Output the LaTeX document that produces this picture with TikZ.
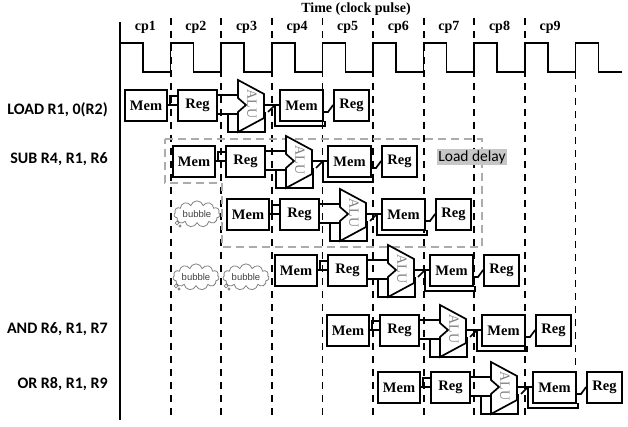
\documentclass[tikz,border=0pt]{standalone}
\usepackage{fontspec}
\setmainfont{Liberation Serif}
\newfontfamily\carl{Carlito}
\newfontfamily\lsans{Liberation Sans}
\usetikzlibrary{shapes.symbols}
\tikzset{
  box/.style={draw, line width=1.7pt, fill=white, inner sep=0pt, minimum height=31pt, font=\bfseries\fontsize{14.5}{14.5}\selectfont},
  wire/.style={line width=1.7pt},
  cpline/.style={line width=1.8pt, dash pattern=on 7pt off 6pt},
  cplbl/.style={font=\bfseries\fontsize{14}{14}\selectfont},
  lbl/.style={font=\carl\bfseries\fontsize{16}{16}\selectfont, anchor=east, inner sep=0pt},
  bub/.style={cloud, cloud puffs=11, aspect=2.2, draw=gray, line width=0.8pt, inner sep=0pt, minimum width=46pt, minimum height=24pt, font=\lsans\fontsize{9.5}{9.5}\selectfont, text=black!75},
  row/.pic={
    \node[box, minimum width=42pt] (m1) at (21,15.5) {Mem};
    \node[box, minimum width=39pt] (g1) at (72.5,15.5) {Reg};
    \draw[wire] (m1.east |- 0,15) -- (g1.west |- 0,15);
    \draw[wire] (g1.west |- 0,6) -- (45,6) -- (45,15);
    \draw[wire, fill=white] (113,-10) -- (139,4) -- (139,28) -- (113,42) -- (113,22) -- (121,15) -- (113,8) -- cycle;
    \node[font=\fontsize{14}{14}\selectfont, text=gray, rotate=-90, inner sep=0pt] (alu) at (127,14) {ALU};
    \coordinate (i1) at (113,5);
    \coordinate (i2) at (113,24);
    \coordinate (o1) at (139,15);
    \draw[wire] (g1.east |- i1) -- (i1);
    \draw[wire] (g1.east |- i2) -- (i2);
    \draw[wire] (103,24) -- (103,42) -- (140,42) -- (140,22);
    \node[box, minimum width=43pt] (m2) at (176.5,15.5) {Mem};
    \node[box, minimum width=35pt] (g2) at (226.5,15.5) {Reg};
    \draw[wire] (o1) -- (m2.west |- o1);
    \draw[wire] (143,22) -- (150,15);
    \draw[wire] (150,15) -- (150,36) -- (200,36) -- (200,31);
    \draw[wire] (m2.east |- 0,22) -- (203,22) -- (g2.west |- 0,15);
  }
}
\begin{document}
\begin{tikzpicture}[x=1pt, y=-1pt]
\useasboundingbox (0,0) rectangle (628,427);
% cycle lines
\foreach \k in {1,...,8} {
  \draw[cpline] ({120+50.6*\k},18) -- ({120+50.6*\k},415);
}
\draw[cpline] (575.4,72) -- (575.4,365);
% clock
\draw[line width=1.7pt] (120,43)
  foreach \k in {1,...,9} { -- ({120+50.6*\k-27.6},43) -- ({120+50.6*\k-27.6},72) -- ({120+50.6*\k},72) -- ({120+50.6*\k},43) }
  -- (598.4,43) -- (598.4,72) -- (622,72);
% axis
\draw[line width=1.9pt] (120,22) -- (120,420);
% labels
\node[cplbl] (title) at (356,9) {Time (clock pulse)};
\foreach \k in {1,...,9} {
  \node[cplbl] (cp\k) at ({120+50.6*\k-25.3},27) {cp\k};
}
% load delay region
\draw[gray!65, line width=1.8pt, dash pattern=on 8pt off 5pt] (165,139) -- (482,139) -- (482,247) -- (222,247) -- (222,183) -- (165,183) -- cycle;
\node[fill=gray!45, font=\carl\fontsize{15.5}{15.5}\selectfont, inner sep=1.2pt] (ld) at (472,157) {Load delay};
% rows
\pic (r1) at (125,90) {row};
\pic (r2) at (173,146) {row};
\pic (r3) at (227,199) {row};
\pic (r4) at (275,255) {row};
\pic (r5) at (327,315) {row};
\pic (r6) at (378,372) {row};
% bubbles
\node[bub] (b1) at (197,214) {bubble};
\node[bub] (b2) at (196,277) {bubble};
\node[bub] (b3) at (246,277) {bubble};
\foreach \bx/\by in {177/223, 176/286, 226/286} {
  \draw[gray, line width=0.7pt] (\bx,\by) circle (1.8pt);
  \draw[gray, line width=0.7pt] (\bx+3,\by+3) circle (1.2pt);
}
% instruction labels
\node[lbl] (l1) at (108,110) {LOAD R1, 0(R2)};
\node[lbl] (l2) at (108,159) {SUB R4, R1, R6};
\node[lbl] (l3) at (108,329) {AND R6, R1, R7};
\node[lbl] (l4) at (108,384) {OR R8, R1, R9};
\end{tikzpicture}
\end{document}
